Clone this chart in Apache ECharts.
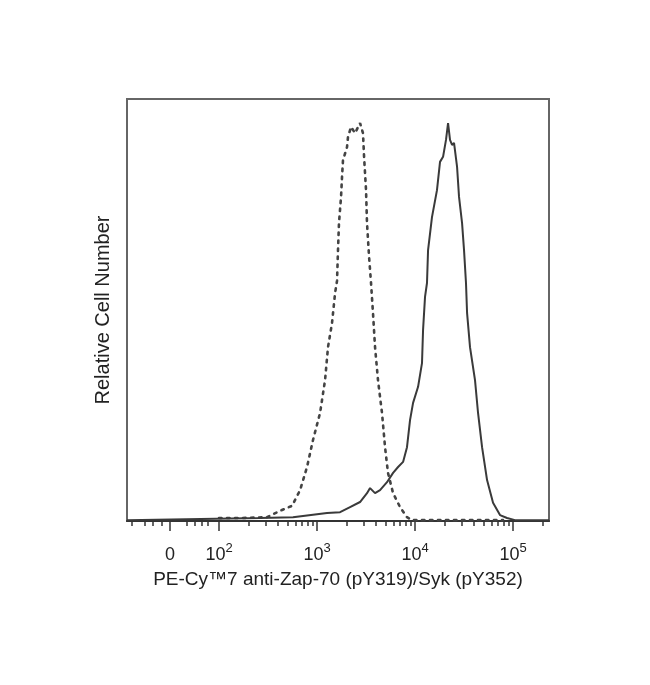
<!DOCTYPE html>
<html>
<head>
<meta charset="utf-8">
<script src="https://cdn.jsdelivr.net/npm/echarts@6/dist/echarts.min.js"></script>
<style>
html,body{margin:0;padding:0;background:#fff;}
#chart{width:650px;height:685px;}
</style>
</head>
<body>
<div id="chart"></div>
<script>
// x values are in display decades (log10 of fluorescence; the biexponential zero sits at 1.5)
var isotypeX = [2.00,2.214,2.49,2.622,2.745,2.827,2.898,2.959,3.031,3.082,3.112,3.153,3.184,3.204,3.214,3.224,3.245,3.255,3.265,3.306,3.316,3.347,3.388,3.439,3.469,3.480,3.500,3.510,3.531,3.551,3.571,3.592,3.622,3.663,3.694,3.724,3.776,3.847,3.918,3.969,4.898];
var isotypeY = [0.7,0.7,0.9,2.4,3.6,7.3,12.8,19.2,25.6,33.4,41.2,46.9,54.0,56.9,64.2,70.6,76.8,81.5,85.5,88.6,91.0,93.4,91.9,94.3,91.9,86.3,78.4,70.6,62.6,56.4,49.3,41.2,33.4,25.6,17.5,11.4,6.6,3.3,0.9,0.2,0.2];

var stainedX = [1.061,2.418,2.755,3.102,3.235,3.337,3.439,3.510,3.541,3.592,3.643,3.714,3.776,3.827,3.878,3.918,3.949,3.980,4.031,4.071,4.082,4.102,4.122,4.133,4.173,4.224,4.255,4.286,4.316,4.337,4.357,4.378,4.398,4.429,4.449,4.480,4.500,4.520,4.531,4.561,4.612,4.643,4.684,4.735,4.796,4.867,4.939,5.020,5.367];
var stainedY = [0.2,0.7,0.9,1.9,2.1,3.3,4.5,6.6,7.8,6.6,7.3,9.2,11.4,12.8,14.0,17.5,23.9,28.0,31.8,37.4,45.3,53.1,56.4,64.2,72.0,78.4,85.1,86.3,90.3,94.3,90.3,89.1,89.6,83.9,76.8,70.6,64.2,56.4,49.3,41.2,33.4,25.6,17.5,9.7,4.3,1.4,0.7,0.2,0.2];

var majorTickValues = [1.5, 2, 3, 4, 5];
var majorTickExps = ['', '2', '3', '4', '5'];
var linearMinorTicks = [1.112,1.245,1.327,1.418,1.673,1.755,1.827,1.888];
var decades = [2, 3, 4, 5];
var axisMin = 1.061, axisMax = 5.367;

var xTitle = 'PE-Cy\u21227 anti-Zap-70 (pY319)/Syk (pY352)';
var yTitle = 'Relative Cell Number';

function zip(xs, ys){ var o=[]; for(var i=0;i<xs.length;i++) o.push([xs[i], ys[i]]); return o; }

var minorTicks = linearMinorTicks.slice();
decades.forEach(function(d){
  for (var k=2;k<=9;k++){ var v = d + Math.log10(k); if (v <= axisMax) minorTicks.push(v); }
});

var font = 'Liberation Sans, Arial, sans-serif';
var chart = echarts.init(document.getElementById('chart'), null, {renderer:'canvas'});
chart.setOption({
  animation:false,
  backgroundColor:'#fff',
  grid:{left:127, top:99, width:422, height:422, show:true, borderColor:'#666', borderWidth:2, backgroundColor:'transparent'},
  xAxis:[{
    type:'value', min:axisMin, max:axisMax,
    name:xTitle, nameLocation:'middle', nameGap:48,
    nameTextStyle:{fontFamily:font, fontSize:19, color:'#222'},
    axisLine:{show:true, lineStyle:{color:'#333', width:2}},
    axisTick:{show:true, customValues:majorTickValues, length:10, lineStyle:{color:'#333', width:1.5}},
    axisLabel:{show:true, customValues:majorTickValues, margin:21,
      formatter:function(v){
        var i = majorTickValues.indexOf(v);
        if (i < 0) return '';
        return majorTickExps[i] ? '{b|10}{s|' + majorTickExps[i] + '}' : '{b|0}';
      },
      rich:{
        b:{fontFamily:font, fontSize:18, color:'#222', lineHeight:22, verticalAlign:'bottom'},
        s:{fontFamily:font, fontSize:13, color:'#222', lineHeight:22, verticalAlign:'top', padding:[0,0,10,0]}
      }
    },
    splitLine:{show:false}
  },{
    type:'value', min:axisMin, max:axisMax, position:'bottom',
    axisLine:{show:false},
    axisTick:{show:true, customValues:minorTicks, length:5, lineStyle:{color:'#333', width:1.5}},
    axisLabel:{show:false},
    splitLine:{show:false}
  }],
  yAxis:{
    type:'value', min:0, max:100,
    name:yTitle, nameLocation:'middle', nameGap:14,
    nameTextStyle:{fontFamily:font, fontSize:20, color:'#222'},
    axisLine:{show:false}, axisTick:{show:false}, axisLabel:{show:false}, splitLine:{show:false}
  },
  series:[{
    type:'line', name:'Isotype', xAxisIndex:0, data:zip(isotypeX, isotypeY),
    showSymbol:false, symbol:'none', silent:true,
    lineStyle:{color:'#444', width:2.6, type:[2.5,5.5], cap:'round'}
  },{
    type:'line', name:'Stained', xAxisIndex:0, data:zip(stainedX, stainedY),
    showSymbol:false, symbol:'none', silent:true,
    lineStyle:{color:'#3a3a3a', width:2, type:'solid'}
  }]
});
</script>
</body>
</html>
